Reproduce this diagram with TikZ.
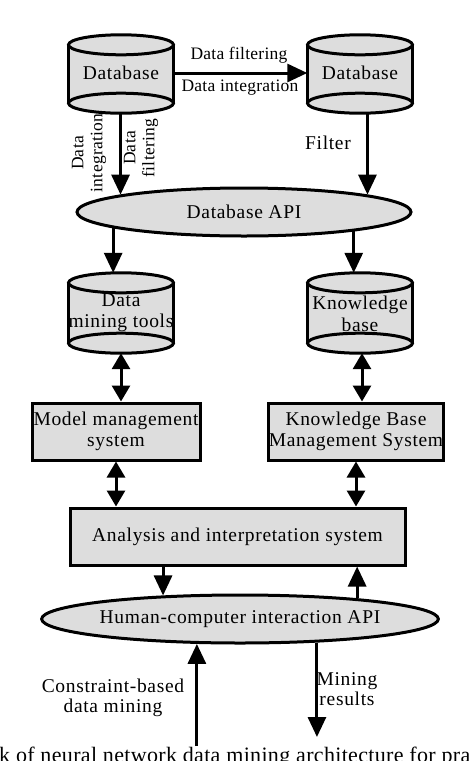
\documentclass[tikz,border=0pt]{standalone}
\usepackage{fontspec}
\setmainfont{Liberation Serif}
\newfontfamily\boxfont{Liberation Serif}[LetterSpace=3.5]
\newfontfamily\lblfont{Liberation Serif}[LetterSpace=1.5]
\usetikzlibrary{shapes.geometric,arrows.meta,calc}
\definecolor{boxgray}{HTML}{DDDDDD}
\tikzset{
  lw/.style={line width=3pt},
  txt/.style={font=\boxfont\fontsize{19.5}{21}\selectfont, inner sep=0pt, align=center},
  lbl/.style={font=\lblfont\fontsize{17.5}{19}\selectfont, inner sep=0pt, align=center},
  biglbl/.style={font=\boxfont\fontsize{19.5}{20}\selectfont, inner sep=0pt, align=center},
  arr/.style={lw, -{Triangle[length=20pt,width=18pt]}},
  darr/.style={lw, {Triangle[length=16pt,width=18pt]}-{Triangle[length=16pt,width=18pt]}},
  sysbox/.style={draw, lw, fill=boxgray, minimum width=168pt, minimum height=57pt, inner sep=0pt, txt},
  apibox/.style={draw, lw, fill=boxgray, ellipse, inner sep=0pt, txt},
}
\newcommand{\mycyl}[6]{%
  \node[minimum width=105pt, minimum height=#4pt, inner sep=0pt] (#1) at (#2,#3) {};
  \fill[boxgray] ([yshift=-10pt]#1.north west) rectangle ([yshift=10pt]#1.south east);
  \draw[lw] ([yshift=-10pt]#1.north west) -- ([yshift=10pt]#1.south west);
  \draw[lw] ([yshift=-10pt]#1.north east) -- ([yshift=10pt]#1.south east);
  \node[txt] (#1-t) at ([yshift=#6pt]#1.center) {#5};
  \draw[lw, fill=boxgray] ([yshift=-10pt]#1.north) ellipse [x radius=52.5pt, y radius=10pt];
  \draw[lw, fill=boxgray] ([yshift=10pt]#1.south) ellipse [x radius=52.5pt, y radius=10pt];
}
\begin{document}
\begin{tikzpicture}[x=1pt,y=-1pt]
\useasboundingbox[fill=white] (0,0) rectangle (474,761);
% cylinders
\mycyl{db1}{121}{74}{78}{Database}{1}
\mycyl{db2}{360}{74}{78}{Database}{1}
\mycyl{dmt}{121}{313}{80}{Data\\mining tools}{0}
\mycyl{kb}{360}{313}{80}{Knowledge\\[1pt]base}{-1}
% ellipses and boxes
\node[apibox, minimum width=334pt, minimum height=48pt] (api) at (244,212) {Database API};
\node[sysbox] (mms) at (116,431.5) {Model management\\system};
\node[sysbox] (kbms) at (356,431.5) {Knowledge Base\\Management System};
\node[sysbox, minimum width=335pt] (ana) at (237.5,536.5) {Analysis and interpretation system};
\node[apibox, minimum width=336pt, minimum height=48pt] (hci) at (240,619) {Human-computer interaction API};
\coordinate (src) at (200,746);
\coordinate (res) at (312,737);
% connectors
\draw[arr] (db1.east |- db1-t) -- (db2.west |- db1-t);
\node[lbl] (l1) at (239,55) {Data filtering};
\node[lbl] (l2) at (240,88) {Data integration};
\draw[arr] (api.172.8 |- db1.south) -- (api.172.8);
\node[lbl, rotate=90] (l3) at (89,153) {Data\\integration};
\node[lbl, rotate=90] (l4) at (141,148) {Data\\filtering};
\draw[arr] (api.8.7 |- db2.south) -- (api.8.7);
\node[biglbl] (l5) at (328,143) {Filter};
\draw[arr] (api.187.4) -- (api.187.4 |- dmt.north);
\draw[arr] (api.350.8) -- (api.350.8 |- kb.north);
\draw[darr] (dmt.south) -- (dmt.south |- mms.north);
\draw[darr] ([xshift=2pt]kb.south) -- ([xshift=2pt]kb.south |- kbms.north);
\draw[darr] (mms.south) -- (mms.south |- ana.north);
\draw[darr] (kbms.south) -- (kbms.south |- ana.north);
\draw[arr] (hci.163.8 |- ana.south) -- (hci.163.8);
\draw[arr] (hci.10.9) -- (hci.10.9 |- ana.south);
\draw[arr] (hci.210.2 |- src) -- (hci.210.2);
\draw[arr] (hci.343.2) -- (hci.343.2 |- res);
\node[biglbl] (l6) at (113,698) {Constraint-based\\data mining};
\node[biglbl] (l7) at (347,689) {Mining\\results};
\node[anchor=base west, font=\lblfont\fontsize{22}{24}\selectfont, inner sep=0pt] (cap) at (-1,762) {k of neural network data mining architecture for pra};
\end{tikzpicture}
\end{document}
